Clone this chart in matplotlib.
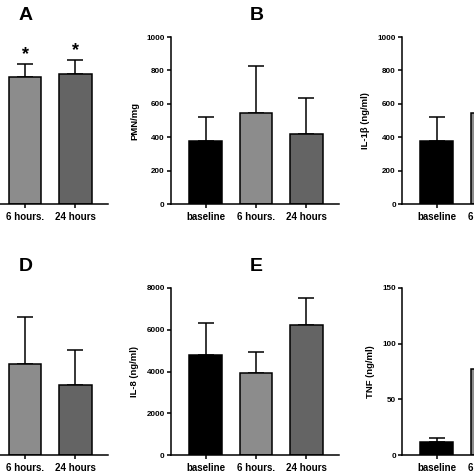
import numpy as np
import matplotlib
matplotlib.use('Agg')
import matplotlib.pyplot as plt

plt.rcParams['font.family'] = ['Liberation Sans', 'DejaVu Sans']
plt.rcParams['font.weight'] = 'bold'

groups = ['baseline', '6 hours.', '24 hours']
bar_colors = ['#000000', '#8c8c8c', '#646464']

# values (nan = cropped out of the reference)
a_mean = [np.nan, 760, 778]
a_err = [np.nan, 78, 84]
b_mean = [377, 545, 419]
b_err = [144, 281, 216]
c_mean = [377, 545, np.nan]
c_err = [144, np.nan, np.nan]
d_mean = [np.nan, 542, 417]
d_err = [np.nan, 285, 214]
e_mean = [4810, 3952, 6238]
e_err = [1523, 1000, 1286]
f_mean = [11.7, 77, np.nan]
f_err = [3.6, np.nan, np.nan]

panels = [
    ('A', a_mean, a_err, '', 1000, 200, [False, True, True]),
    ('B', b_mean, b_err, 'PMN/mg', 1000, 200, None),
    ('C', c_mean, c_err, 'IL-1\u03b2 (ng/ml)', 1000, 200, None),
    ('D', d_mean, d_err, '', 1000, 200, None),
    ('E', e_mean, e_err, 'IL-8 (ng/ml)', 8000, 2000, None),
    ('F', f_mean, f_err, 'TNF (ng/ml)', 150, 50, None),
]

W = 474.0
fig = plt.figure(figsize=(4.74, 4.74), dpi=100)

left_px = [-60, 171, 402]
row_px = [(37, 204), (288, 455)]
ax_w = 168

for i, (letter, mean, err, ylab, ymax, ystep, stars) in enumerate(panels):
    row = i // 3
    col = i % 3
    top, bot = row_px[row]
    ax = fig.add_axes([left_px[col] / W, 1 - bot / W, ax_w / W, (bot - top) / W])
    x = np.arange(len(groups))
    ax.bar(x, mean, width=0.65, color=bar_colors, edgecolor='black', linewidth=1.1, zorder=2)
    ax.errorbar(x, mean, yerr=[np.zeros(len(err)), err], fmt='none', ecolor='black',
                elinewidth=1.1, capsize=5.8, capthick=1.1, zorder=1)
    if stars:
        for k in range(len(x)):
            if stars[k]:
                ax.annotate('*', (x[k], mean[k] + err[k]), xytext=(0, 1), textcoords='offset points',
                            ha='center', va='bottom', fontsize=13, fontweight='bold')
    ax.set_xlim(-0.69, 2.65)
    ax.set_ylim(0, ymax)
    ax.set_yticks(np.arange(0, ymax + 1, ystep))
    ax.set_xticks(x)
    ax.set_xticklabels(groups, fontsize=7, fontweight='bold')
    ax.tick_params(axis='y', labelsize=5.8, width=1.1, length=3, pad=1.5)
    ax.tick_params(axis='x', width=1.1, length=3, pad=2.5)
    for lab in ax.get_yticklabels():
        lab.set_fontweight('bold')
    ax.spines['top'].set_visible(False)
    ax.spines['right'].set_visible(False)
    ax.spines['left'].set_linewidth(1.1)
    ax.spines['bottom'].set_linewidth(1.1)
    ax.set_ylabel(ylab, fontsize=6.8, fontweight='bold', labelpad=5)
    ax.text(0.51, 1.13, letter, transform=ax.transAxes, ha='center', va='center',
            fontsize=14, fontweight='bold')

fig.savefig('out.png', dpi=100)
